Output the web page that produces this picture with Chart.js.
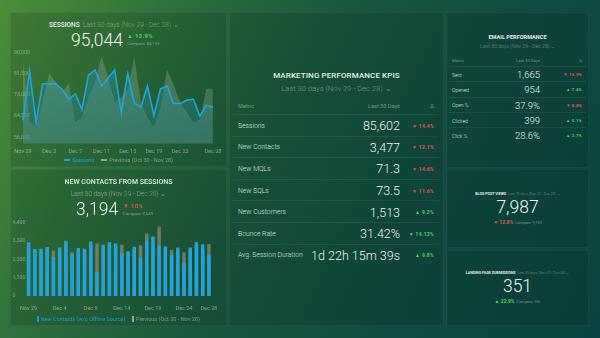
<!DOCTYPE html>
<html>
<head>
<meta charset="utf-8">
<script src="https://cdn.jsdelivr.net/npm/chart.js@4/dist/chart.umd.min.js"></script>
<style>
  html,body{margin:0;padding:0;}
  body{width:600px;height:338px;overflow:hidden;position:relative;font-family:Roboto,"Noto Sans",sans-serif;
    background:linear-gradient(115deg,#4f8e3a 0%,#30713c 22%,#1b583d 45%,#114b42 70%,#0c4441 100%);}
  .panel{position:absolute;background:rgba(0,25,20,0.16);border:1px solid rgba(255,255,255,0.05);box-sizing:border-box;}
  .abs{position:absolute;white-space:nowrap;}
  .grey{color:rgba(255,255,255,0.42);}
  .up{color:#52d35a;}
  .dn{color:#e0584a;}
  .row{position:absolute;left:0;right:0;border-top:1px solid rgba(255,255,255,0.07);}
  .cc{position:absolute;}
  .leg{position:absolute;white-space:nowrap;font-size:5.5px;line-height:7px;display:flex;gap:7px;justify-content:center;}
  .leg span{display:inline-flex;align-items:center;gap:2px;}
  .lnb{display:inline-block;width:6px;height:1.2px;}
  .bxb{display:inline-block;width:1.6px;height:6px;}
</style>
</head>
<body>
<div class="panel" style="left:10px;top:12px;width:217px;height:155px;"></div>
<div class="panel" style="left:10px;top:169px;width:217px;height:157px;"></div>
<div class="panel" style="left:229px;top:12px;width:215px;height:314px;"></div>
<div class="panel" style="left:446px;top:12px;width:143px;height:156px;"></div>
<div class="panel" style="left:446px;top:169px;width:143px;height:79px;"></div>
<div class="panel" style="left:446px;top:250px;width:143px;height:76px;"></div>

<!-- Sessions header -->
<div class="abs" style="left:49px;top:21px;font-size:6.6px;color:#e6efe6;font-weight:500;">SESSIONS <span class="grey" style="font-weight:300;">&nbsp;Last 30 days (Nov 29 - Dec 28) ⌄</span></div>
<div class="abs" style="left:71px;top:30px;font-size:17.5px;font-weight:300;color:#f2f6f2;">95,044</div>
<div class="abs up" style="left:127px;top:32px;font-size:6px;font-weight:700;letter-spacing:0.3px;">▲ 12.9%</div>
<div class="abs grey" style="left:127px;top:41px;font-size:4.3px;">Compare: 84,193</div>
<div class="cc" style="left:10px;top:46px;width:218px;height:113px;"><canvas id="c1"></canvas></div>
<div class="leg" style="left:10px;width:217px;top:156.5px;">
  <span style="color:#1fa6e2;"><i class="lnb" style="background:#1fa6e2;"></i>Sessions</span>
  <span style="color:rgba(255,255,255,0.42);"><i class="lnb" style="background:rgba(200,205,190,0.7);"></i>Previous (Oct 30 - Nov 28)</span>
</div>

<!-- New contacts header -->
<div class="abs" style="left:10px;width:217px;top:178px;text-align:center;font-size:7px;color:#e6efe6;font-weight:500;">NEW CONTACTS FROM SESSIONS</div>
<div class="abs grey" style="left:10px;width:217px;top:190px;text-align:center;font-size:6.6px;font-weight:300;">Last 30 days (Nov 29 - Dec 28) ⌄</div>
<div class="abs" style="left:76px;top:199px;font-size:17.5px;font-weight:300;color:#f2f6f2;">3,194</div>
<div class="abs dn" style="left:123px;top:202px;font-size:6px;font-weight:700;letter-spacing:0.3px;">▼ 10%</div>
<div class="abs grey" style="left:123px;top:211px;font-size:4.3px;">Compare: 3,549</div>
<div class="cc" style="left:10px;top:214px;width:218px;height:108px;"><canvas id="c2"></canvas></div>
<div class="leg" style="left:10px;width:217px;top:315.5px;">
  <span style="color:#1e9fd9;"><i class="bxb" style="background:#1e9fd9;"></i>New Contacts (w/o Offline Source)</span>
  <span style="color:rgba(255,255,255,0.42);"><i class="bxb" style="background:rgba(190,195,180,0.8);"></i>Previous (Oct 30 - Nov 28)</span>
</div>

<!-- Middle KPIs -->
<div class="abs" style="left:229px;width:215px;top:71px;text-align:center;font-size:8px;color:#e6efe6;font-weight:500;letter-spacing:0.1px;">MARKETING PERFORMANCE KPIS</div>
<div class="abs grey" style="left:229px;width:215px;top:84px;text-align:center;font-size:7.6px;font-weight:300;">Last 30 days (Nov 29 - Dec 28) ⌄</div>
<div id="kpi" class="abs" style="left:233px;top:98px;width:206px;height:170px;"></div>

<!-- Email -->
<div class="abs" style="left:446px;width:143px;top:34px;text-align:center;font-size:5.6px;color:#e6efe6;font-weight:700;">EMAIL PERFORMANCE</div>
<div class="abs grey" style="left:446px;width:143px;top:43px;text-align:center;font-size:5.2px;font-weight:300;">Last 30 days (Nov 29 - Dec 28) ⌄</div>
<div id="email" class="abs" style="left:449px;top:55px;width:137px;height:90px;"></div>

<!-- Blog -->
<div class="abs" style="left:446px;width:143px;top:192px;text-align:center;font-size:3.6px;color:#e6efe6;font-weight:700;">BLOG POST VIEWS <span class="grey" style="font-weight:300;">&nbsp;Last 30 days (Nov 29 - Dec 28) ⌄</span></div>
<div class="abs" style="left:446px;width:143px;top:197px;text-align:center;font-size:17.5px;font-weight:300;color:#f2f6f2;">7,987</div>
<div class="abs" style="left:446px;width:143px;top:219px;text-align:center;font-size:5px;"><span class="dn" style="font-weight:700;">▼ 12.8%</span> <span class="grey" style="font-size:3.8px;">&nbsp;Compare: 9,159</span></div>

<!-- Landing -->
<div class="abs" style="left:446px;width:143px;top:271px;text-align:center;font-size:3.6px;color:#e6efe6;font-weight:700;">LANDING PAGE SUBMISSIONS <span class="grey" style="font-weight:300;">&nbsp;Last 30 days (Nov 29 - Dec 28) ⌄</span></div>
<div class="abs" style="left:446px;width:143px;top:276px;text-align:center;font-size:17.5px;font-weight:300;color:#f2f6f2;">351</div>
<div class="abs" style="left:446px;width:143px;top:298px;text-align:center;font-size:5px;"><span class="up" style="font-weight:700;">▲ 22.9%</span> <span class="grey" style="font-size:3.8px;">&nbsp;Compare: 285</span></div>

<script>
// ---------- DATA ----------
const days = ["Nov 29","Nov 30","Dec 1","Dec 2","Dec 3","Dec 4","Dec 5","Dec 6","Dec 7","Dec 8","Dec 9","Dec 10","Dec 11","Dec 12","Dec 13","Dec 14","Dec 15","Dec 16","Dec 17","Dec 18","Dec 19","Dec 20","Dec 21","Dec 22","Dec 23","Dec 24","Dec 25","Dec 26","Dec 27","Dec 28"];
const sessions = [62800,82500,62000,77400,77400,77400,75000,71300,73300,67100,80900,82900,76500,79700,82900,65800,81500,69700,68000,76500,64700,75400,76500,69500,69500,70800,71300,64500,68800,68000];
const sessionsPrev = [86700,62000,60000,70000,81600,78000,74000,77600,62000,64000,72000,78000,88300,80000,70000,72000,75000,88300,70000,64000,60000,68000,83000,77000,70000,66000,62000,63000,75400,75400];
const sessionsTicks = [56000,64500,73000,81500,90000];
const sessionsXTicks = ["Nov 29","Dec 3","Dec 7","Dec 11","Dec 15","Dec 19","Dec 23","Dec 28"];

const contacts = [3210,2800,2815,2915,2320,2895,3290,2500,2855,2815,3250,1440,3050,3210,3130,2540,2660,2935,2265,3290,3550,2995,2955,2460,2895,1970,2895,3210,3090,2460];
const contactsPrev = [2950,2700,2750,2800,2700,2750,3100,2600,2700,2650,3050,3130,2900,3000,2950,3050,2500,2800,3010,3730,3300,4140,2800,2750,2700,2600,2750,2950,2800,3090];
const contactsTicks = [0,1100,2200,3300,4400];
const contactsXTicks = ["Nov 29","Dec 4","Dec 9","Dec 14","Dec 19","Dec 24","Dec 28"];

const kpiMetrics = ["Sessions","New Contacts","New MQLs","New SQLs","New Customers","Bounce Rate","Avg. Session Duration"];
const kpiValues = ["85,602","3,477","71.3","73.5","1,513","31.42%","1d 22h 15m 39s"];
const kpiDeltas = ["▼ 14.4%","▼ 12.1%","▼ 14.6%","▼ 11.6%","▲ 9.2%","▼ 14.13%","▲ 9.8%"];
const kpiGood = [false,false,false,false,true,true,true];

const emailMetrics = ["Sent","Opened","Open %","Clicked","Click %"];
const emailValues = ["1,665","954","37.9%","399","28.6%"];
const emailDeltas = ["▼ 16.9%","▲ 7.4%","▼ 8.8%","▲ 5.1%","▲ 3.7%"];
const emailGood = [false,true,false,true,true];

// ---------- TABLES ----------
function buildTable(el, metrics, values, deltas, good, o){
  let h = '';
  h += `<div class="abs grey" style="left:${o.mx}px;top:${o.hy}px;font-size:${o.hs}px;">Metric</div>`;
  h += `<div class="abs grey" style="right:${o.vr}px;top:${o.hy}px;font-size:${o.hs}px;">Last 30 Days</div>`;
  h += `<div class="abs grey" style="right:${o.dr}px;top:${o.hy}px;font-size:${o.hs}px;">Δ</div>`;
  metrics.forEach((m,i)=>{
    const top = o.r0 + i*o.rh;
    h += `<div class="row" style="top:${top}px;height:${o.rh}px;">
      <div class="abs" style="left:${o.mx}px;top:${(o.rh-o.ms*1.2)/2}px;font-size:${o.ms}px;color:#dde8e2;font-weight:300;">${m}</div>
      <div class="abs" style="right:${o.vr}px;top:${(o.rh-o.vs*1.2)/2}px;font-size:${o.vs}px;color:#eef3ef;font-weight:300;line-height:1.2;">${values[i]}</div>
      <div class="abs ${good[i]?'up':'dn'}" style="right:${o.dr}px;top:${(o.rh-o.ds*1.2)/2}px;font-size:${o.ds}px;font-weight:700;letter-spacing:0.3px;">${deltas[i]}</div>
    </div>`;
  });
  el.innerHTML = h;
}
buildTable(document.getElementById('kpi'), kpiMetrics, kpiValues, kpiDeltas, kpiGood,
  {mx:5,hy:5,hs:5.6,vr:39,dr:5,r0:16,rh:21.6,ms:6.8,vs:12.5,ds:5});
buildTable(document.getElementById('email'), emailMetrics, emailValues, emailDeltas, emailGood,
  {mx:3,hy:3,hs:4.2,vr:46,dr:4,r0:11,rh:15.3,ms:5,vs:9.5,ds:4.2});

// ---------- CHARTS ----------
Chart.defaults.font.family = 'Roboto, "Noto Sans", sans-serif';
Chart.defaults.animation = false;

const c1 = document.getElementById('c1').getContext('2d');
const gBlue = c1.createLinearGradient(0,0,0,100);
gBlue.addColorStop(0,'rgba(45,160,180,0.45)');
gBlue.addColorStop(1,'rgba(25,120,130,0.35)');
new Chart(c1,{
  type:'line',
  data:{datasets:[
    {label:'Sessions',data:sessions.map((v,i)=>({x:i,y:v})),borderColor:'#1fa6e2',borderWidth:1.6,backgroundColor:gBlue,fill:'start',pointRadius:0,tension:0},
    {label:'Previous (Oct 30 - Nov 28)',data:sessionsPrev.map((v,i)=>({x:i,y:v})),borderColor:'rgba(170,175,160,0.0)',borderWidth:0,backgroundColor:'rgba(175,185,160,0.28)',fill:'start',pointRadius:0,tension:0}
  ]},
  options:{
    responsive:true,maintainAspectRatio:false,
    layout:{padding:{left:1,right:2,top:4.7,bottom:0}},
    plugins:{legend:{display:false},tooltip:{enabled:false}},
    scales:{
      x:{type:'linear',min:-1.83,max:31,grid:{display:false,drawTicks:false,tickLength:0},border:{display:false},
        afterBuildTicks:(ax)=>{ax.ticks=sessionsXTicks.map(l=>({value:days.indexOf(l)}));},
        ticks:{color:'rgba(255,255,255,0.45)',font:{size:5.5},padding:4.3,maxRotation:0,autoSkip:false,callback:(v)=>days[v]}},
      y:{min:53450,max:90000,grid:{display:false,drawTicks:false,tickLength:0},border:{display:false},
        afterFit:(ax)=>{ax.width=0;},
        afterBuildTicks:(ax)=>{ax.ticks=sessionsTicks.map(v=>({value:v}));},
        ticks:{mirror:true,padding:3,color:'rgba(255,255,255,0.4)',font:{size:5.3},callback:(v)=>v.toLocaleString('en-US')}}
    }
  }
});

const c2 = document.getElementById('c2').getContext('2d');
new Chart(c2,{
  type:'bar',
  data:{labels:days,datasets:[
    {label:'New Contacts (w/o Offline Source)',data:contacts,backgroundColor:'#22a3dc',barThickness:2.8,grouped:false},
    {label:'Previous (Oct 30 - Nov 28)',data:contactsPrev,backgroundColor:'rgba(130,140,125,0.75)',barThickness:2.8,grouped:false}
  ]},
  options:{
    responsive:true,maintainAspectRatio:false,
    layout:{padding:{left:2,right:16,top:8.7,bottom:0}},
    plugins:{legend:{display:false},tooltip:{enabled:false}},
    scales:{
      x:{grid:{display:false,drawTicks:false,tickLength:0},border:{display:false},
        ticks:{color:'rgba(255,255,255,0.45)',font:{size:5.5},padding:9.7,maxRotation:0,autoSkip:false,
          callback:function(v,i){const l=days[i];return contactsXTicks.includes(l)?l:'';}}},
      y:{min:0,max:4400,grid:{display:false,drawTicks:false,tickLength:0},border:{display:false},
        afterFit:(ax)=>{ax.width=13;},
        afterBuildTicks:(ax)=>{ax.ticks=contactsTicks.map(v=>({value:v}));},
        ticks:{crossAlign:'far',padding:0,color:'rgba(255,255,255,0.4)',font:{size:5.3},callback:(v)=>v.toLocaleString('en-US')}}
    }
  }
});
</script>
</body>
</html>
